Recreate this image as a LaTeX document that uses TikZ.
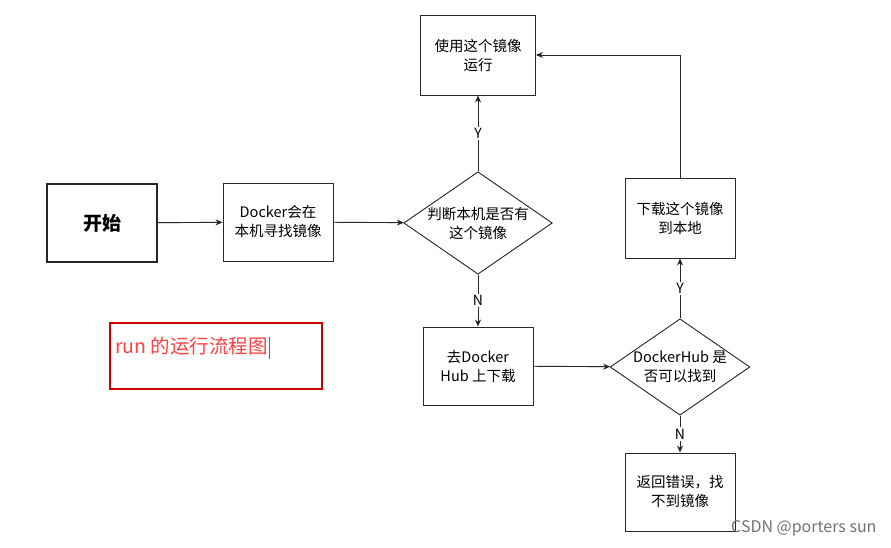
\documentclass[tikz,border=0pt]{standalone}
\usepackage{fontspec}
\setmainfont{Noto Sans CJK SC}
\usetikzlibrary{shapes.geometric,arrows.meta}
\begin{document}
\begin{tikzpicture}[x=1pt,y=-1pt,
  box/.style={draw=black!85,line width=0.9pt,minimum width=110pt,minimum height=78pt,align=center,font=\fontsize{14.5}{19}\selectfont,inner sep=2pt},
  dia/.style={draw=black!85,line width=0.9pt,diamond,aspect=1.45,minimum width=132pt,minimum height=90pt,inner sep=0pt,align=center,font=\fontsize{14.5}{19}\selectfont},
  arr/.style={-{Stealth[length=7pt,width=6pt]},line width=0.9pt,draw=black!85},
  lab/.style={font=\fontsize{14}{15}\selectfont,fill=white,inner sep=1.5pt}]
\useasboundingbox (0,0) rectangle (891,547);
\fill[white] (0,0) rectangle (891,547);
\node[box,line width=1.6pt,font=\bfseries\fontsize{19}{21}\selectfont] (start) at (102,223) {开始};
\node[box] (find) at (278,222) {Docker会在\\本机寻找镜像};
\node[dia] (d1) at (478,223) {判断本机是否有\\这个镜像};
\node[box,minimum width=115pt,minimum height=80pt] (run) at (478,55) {使用这个镜像\\运行};
\node[box] (pull) at (478,366) {去Docker\\Hub 上下载};
\node[dia] (d2) at (680,367) {DockerHub 是\\否可以找到};
\node[box,minimum height=80pt] (dl) at (680,218) {下载这个镜像\\到本地};
\node[box] (err) at (680,492) {返回错误，找\\不到镜像};
\draw[arr] (start) -- (find);
\draw[arr] (find) -- (d1);
\draw[arr] (d1) -- node[lab] (y1) {Y} (run);
\draw[arr] (d1) -- node[lab] (n1) {N} (pull);
\draw[arr] (pull) -- (d2);
\draw[arr] (d2) -- node[lab] (y2) {Y} (dl);
\draw[arr] (d2) -- node[lab] (n2) {N} (err);
\draw[arr] (dl.north) |- (run.east);
\node[draw=red!80!black,line width=1.2pt,minimum width=212pt,minimum height=66pt] (note) at (216,356) {};
\node[anchor=west,text=red!75,font=\fontsize{19.5}{21}\selectfont,inner sep=0pt] (title) at (115,346) {run 的运行流程图};
\draw[black!60,line width=0.8pt] (title.north east) ++(1,0) -- ++(0,22);
\node[anchor=east,text=black!55,font=\fontsize{16}{18}\selectfont] (wm) at (880,528) {CSDN @porters sun};
\end{tikzpicture}
\end{document}
